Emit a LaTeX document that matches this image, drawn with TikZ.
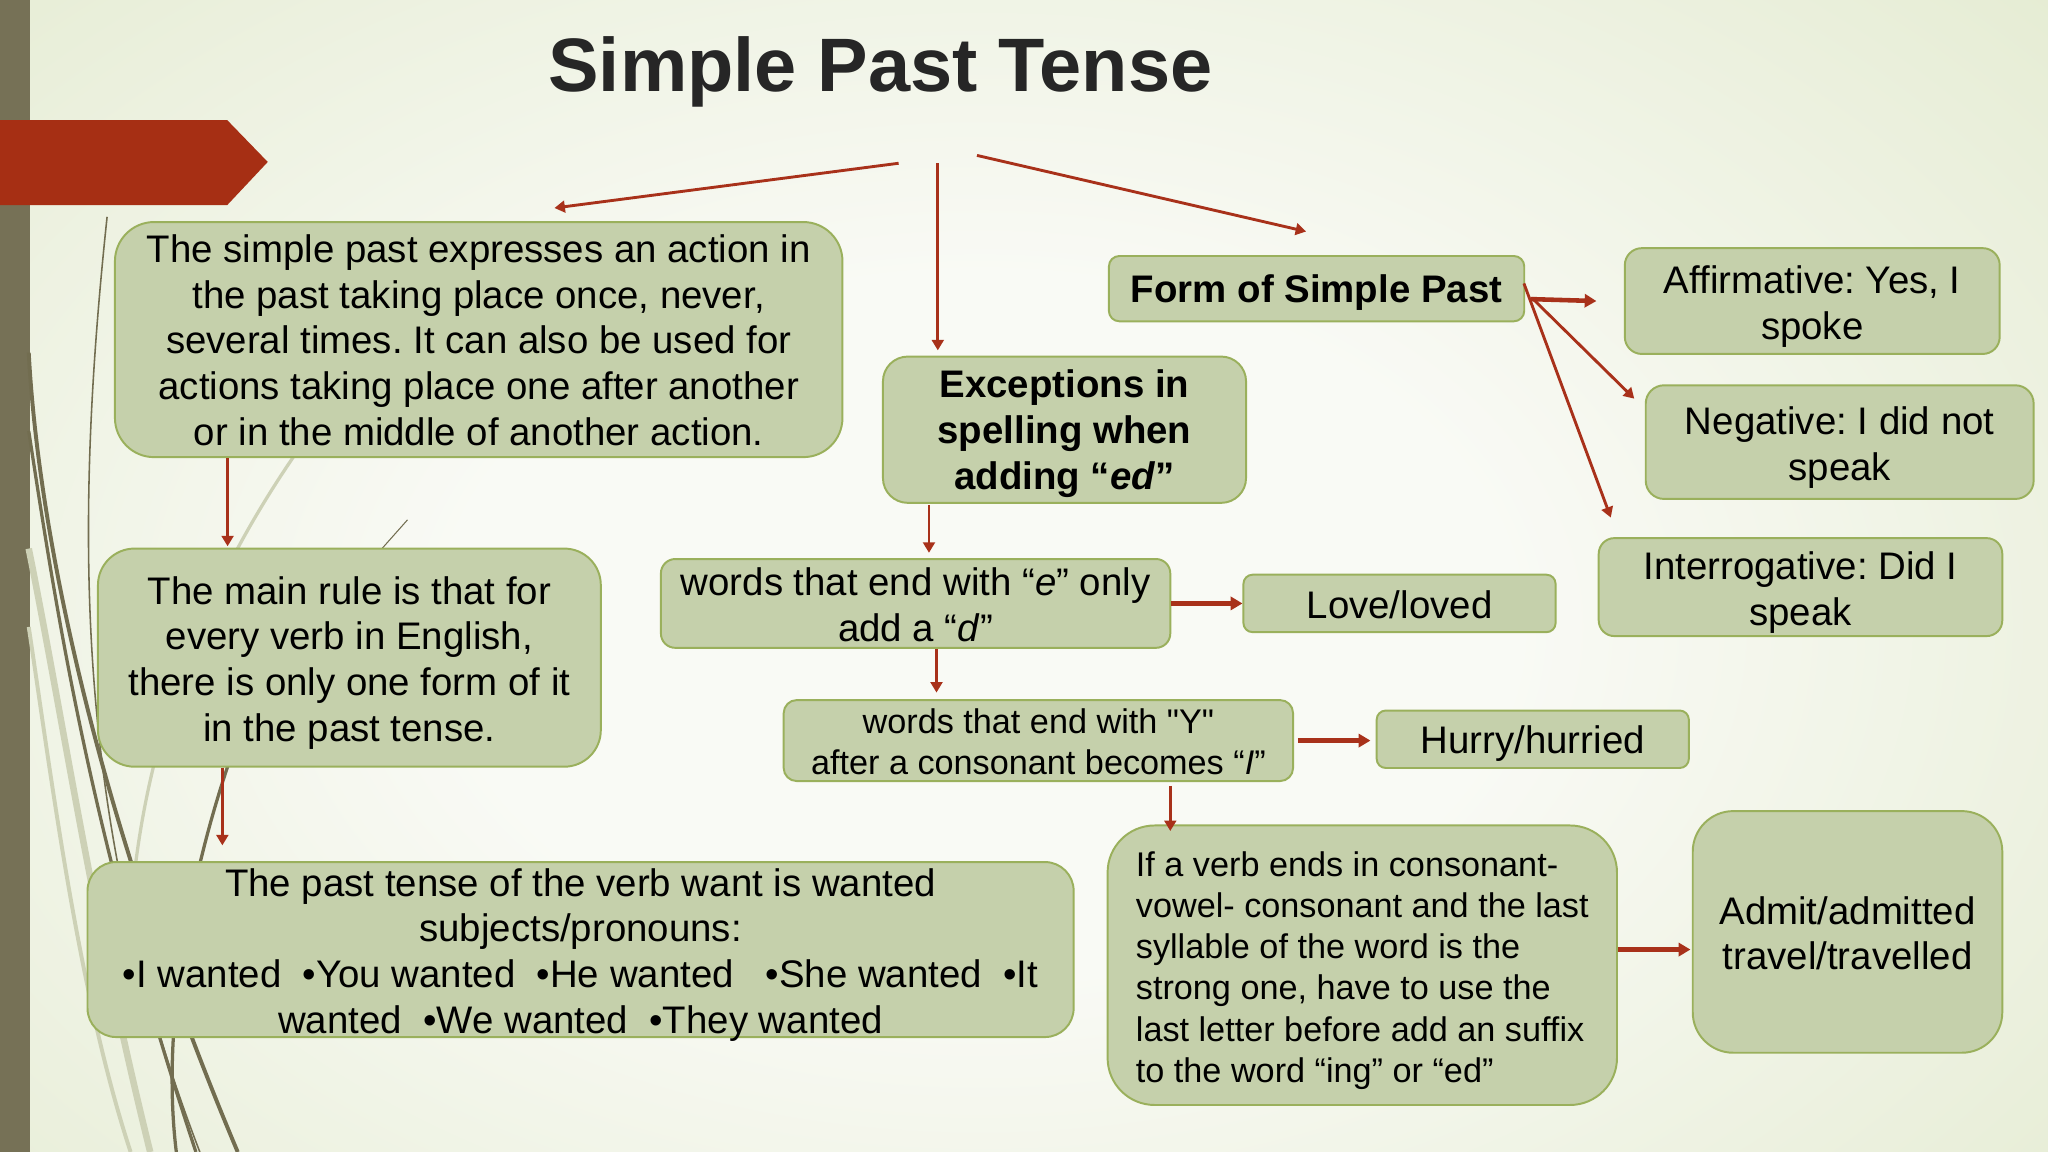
\documentclass[tikz,border=0pt]{standalone}
\usepackage{fontspec}
\setmainfont{Liberation Sans}
\newfontfamily\plainquotes{Liberation Sans}
\usetikzlibrary{calc}
\usetikzlibrary{arrows.meta}

\definecolor{boxfill}{HTML}{C5D0AB}
\definecolor{boxline}{HTML}{9AB05C}
\definecolor{arrowred}{HTML}{A8311A}
\definecolor{bannerred}{HTML}{A62F14}
\definecolor{barbrown}{HTML}{767156}
\definecolor{wispdark}{HTML}{726D50}
\definecolor{wisppale}{HTML}{CDD1B6}
\definecolor{titlegray}{HTML}{262626}
\definecolor{bgcentre}{HTML}{F9FAF5}
\definecolor{bgmid}{HTML}{E8EED8}
\definecolor{bgedge}{HTML}{D7E2BA}
\pgfdeclareradialshading{slidebg}{\pgfpoint{0bp}{0bp}}{color(0bp)=(bgcentre); color(12bp)=(bgcentre); color(30bp)=(bgmid); color(46bp)=(bgedge); color(50bp)=(bgedge)}

\newcommand{\bodyfont}{\fontsize{29.4}{35}\selectfont}
\newcommand{\smallbody}{\fontsize{26.2}{31.5}\selectfont}
% strut that pushes the first line down a little
\newcommand{\textlift}[1]{\rule{0pt}{#1pt}}

\begin{document}
\frenchspacing
\begin{tikzpicture}[x=1pt, y=-1pt,
    notebox/.style={draw=boxline, line width=1.5pt, fill=boxfill, rounded corners=#1,
      align=center, inner sep=0pt, font=\bodyfont},
    arr/.style={draw=arrowred, line width=2.2pt, -{Triangle[length=8pt, width=9pt]}},
    arrthick/.style={draw=arrowred, line width=3.5pt, -{Triangle[length=9pt, width=10pt]}},
    wispline/.style={draw=wispdark, line width=#1},
    wispfaint/.style={draw=wisppale, line width=#1}]
  \useasboundingbox (0,0) rectangle (1568,882);

  % slide background
  \begin{scope}
    \clip (0,0) rectangle (1568,882);
    \shade[shading=slidebg] (-100,-80) rectangle (1600,1040);
  \end{scope}
  \fill[barbrown] (0,0) rectangle (23,882);

  % wisps on the left
  \draw[wispfaint=5pt] (22,420) .. controls (50,560) and (70,700) .. (115,882);
  \draw[wispfaint=3pt] (22,480) .. controls (40,600) and (60,760) .. (100,882);
  \draw[wispfaint=2.5pt] (235,335) .. controls (160,440) and (110,560) .. (100,700);
  \draw[wispline=1.2pt] (82,166) .. controls (55,420) and (60,640) .. (153,882);
  \draw[wispline=3pt] (22,270) .. controls (30,420) and (80,640) .. (182,882);
  \draw[wispline=2.5pt] (22,330) .. controls (45,480) and (70,640) .. (150,882);
  \draw[wispline=2.5pt] (200,520) .. controls (160,610) and (120,760) .. (135,882);
  \draw[wispline=0.8pt] (312,398) -- (288,425);

  \fill[bannerred] (0,92) -- (174,92) -- (205,124) -- (174,157) -- (0,157) -- cycle;

  \node[font=\fontsize{58}{64}\selectfont\bfseries, text=titlegray, anchor=base] (title) at (674,70) {Simple Past Tense};

  \node[notebox=30, minimum width=557, minimum height=180] (def) at (366.5,260)
    {\textlift{22}The simple past expresses an action in\\ the past taking place once, never,\\ several times. It can also be used for\\ actions taking place one after another\\ or in the middle of another action.};
  \node[notebox=28, minimum width=385, minimum height=167] (main) at (267.5,503.5)
    {\textlift{29.4}The main rule is that for\\ every verb in English,\\ there is only one form of it\\ in the past tense.};
  \node[notebox=22, minimum width=755, minimum height=134, inner ysep=-3.5pt] (want) at (444.5,727)
    {\textlift{29.4}The past tense of the verb want is wanted\\ subjects/pronouns:\\ •I wanted~~•You wanted~~•He wanted~~~•She wanted~~•It\\ wanted~~•We wanted~~•They wanted};
  \node[notebox=19, minimum width=278, minimum height=112, font=\bodyfont\bfseries] (exc) at (815,329)
    {\textlift{27.4}Exceptions in\\ spelling when\\ adding “\textit{ed}”};
  \node[notebox=8, minimum width=318, minimum height=50, font=\bodyfont\bfseries] (form) at (1008,221)
    {\textlift{27.4}Form of Simple Past};
  \node[notebox=13, minimum width=287, minimum height=81] (aff) at (1387.5,230.5)
    {\textlift{29.4}Affirmative: Yes, I\\ spoke};
  \node[notebox=14, minimum width=297, minimum height=87] (neg) at (1408.5,338.5)
    {\textlift{29.4}Negative: I did not\\ speak};
  \node[notebox=12, minimum width=309, minimum height=75] (inter) at (1378.5,449.5)
    {\textlift{29.4}Interrogative: Did I\\ speak};
  \node[notebox=11, minimum width=390, minimum height=68] (ew) at (701,462)
    {\textlift{23.4}words that end with “\textit{e}” only\\ add a “\textit{d}”};
  \node[notebox=7, minimum width=239, minimum height=44] (love) at (1071.5,462) {\textlift{23.4}Love/loved};
  \node[notebox=10, minimum width=390, minimum height=62, font=\smallbody] (yw) at (795,567)
    {\textlift{21}words that end with {\plainquotes "Y"}\\ after a consonant becomes “\textit{I}”};
  \node[notebox=7, minimum width=239, minimum height=44] (hurry) at (1173.5,566) {\textlift{27.4}Hurry/hurried};
  \node[notebox=36, minimum width=390, minimum height=214, font=\smallbody, align=left] (cvc) at (1043,739)
    {\textlift{27}If a verb ends in consonant-\\ vowel- consonant and the last\\ syllable of the word is the\\ strong one, have to use the\\ last letter before add an suffix\\ to the word “ing” or “ed”};
  \node[notebox=31, minimum width=237, minimum height=185] (admit) at (1414.5,713.5)
    {\textlift{23.4}Admit/admitted\\ travel/travelled};

  % arrows
  \coordinate (ta) at (688,125);
  \coordinate (tb) at (718,125);
  \coordinate (tc) at (748,119);
  \draw[arr] (ta) -- ($(def.north)+(58,-10)$);
  \draw[arr, shorten >=4pt] (tb) -- (tb |- exc.north);
  \draw[arr] (tc) -- ($(form.north)+(-8,-18)$);

  \path ($(def.south west)+(87,0)$) coordinate (d1)
        ($(main.south west)+(96,0)$) coordinate (d2)
        ($(exc.south west)+(36,1)$) coordinate (d3)
        ($(ew.south)+(16,0)$) coordinate (d4)
        ($(yw.south)+(101,3)$) coordinate (d5)
        ($(cvc.east)+(0,-12)$) coordinate (d6);
  \draw[arr, shorten >=1pt] (d1) -- (d1 |- main.north);
  \draw[arr, shorten >=12pt] (d2) -- (d2 |- want.north);
  \draw[arr, shorten >=4pt] (d3) -- (d3 |- ew.north);
  \draw[arr, shorten >=5pt] (d4) -- (d4 |- yw.north);
  \draw[arr, shorten >=-5pt] (d5) -- (d5 |- cvc.north);

  \draw[arrthick] (ew.east) -- (love.west);
  \draw[arrthick, shorten <=3pt, shorten >=4pt] (yw.east) -- (yw.east -| hurry.west);
  \draw[arrthick, shorten >=1pt] (d6) -- (d6 -| admit.west);

  \draw[arrthick] ($(form.east)+(4,8)$) -- ($(aff.west)+(-21,0)$);
  \draw[arr] ($(form.east)+(5,7)$) -- ($(neg.north west)+(-8,11)$);
  \draw[arr] ($(form.east)+(-1,-4)$) -- ($(inter.north west)+(10,-15)$);
\end{tikzpicture}
\end{document}
